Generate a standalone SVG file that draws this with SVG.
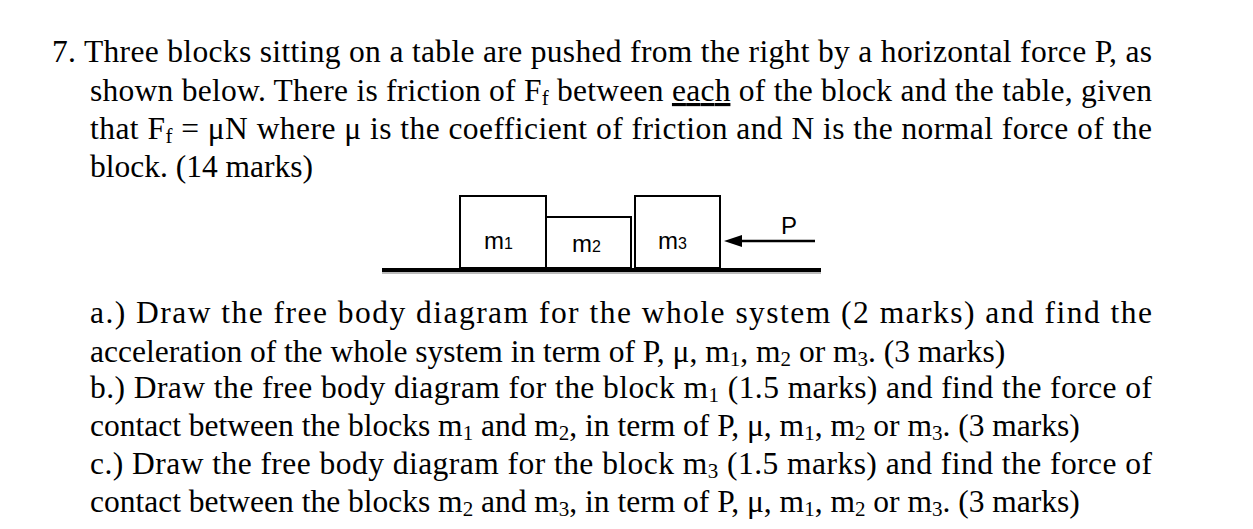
<svg xmlns="http://www.w3.org/2000/svg" width="1253" height="529" viewBox="0 0 1253 529">
<style>
.t{font-family:"Liberation Serif",serif;font-size:31.5px;fill:#000}
.s{font-size:21px}
.l{font-family:"Liberation Sans",Arial,sans-serif;font-size:24px;fill:#000}
.b{fill:#fff;stroke:#000;stroke-width:2}
</style>
<rect width="1253" height="529" fill="#fff"/>
<g id="text">
<text class="t" x="52" y="62" textLength="1100" lengthAdjust="spacing">7. Three blocks sitting on a table are pushed from the right by a horizontal force P, as</text>
<text class="t" x="90" y="101" textLength="1062" lengthAdjust="spacing">shown below.  There is friction of F<tspan class="s" dy="4">f</tspan><tspan dy="-4"> between </tspan><tspan text-decoration="underline">each</tspan> of the block and the table, given</text>
<text class="t" x="90" y="139" textLength="1062" lengthAdjust="spacing">that F<tspan class="s" dy="4">f</tspan><tspan dy="-4"> = μN where μ is the coefficient of friction and N is the normal force of the</tspan></text>
<text class="t" x="90" y="177">block. (14 marks)</text>
<text class="t" x="90" y="323" textLength="1062" lengthAdjust="spacing">a.) Draw the free body diagram for the whole system (2 marks) and find the</text>
<text class="t" x="90" y="362">acceleration of the whole system in term of P, μ, m<tspan class="s" dy="4">1</tspan><tspan dy="-4">, m</tspan><tspan class="s" dy="4">2</tspan><tspan dy="-4"> or m</tspan><tspan class="s" dy="4">3</tspan><tspan dy="-4">. (3 marks)</tspan></text>
<text class="t" x="90" y="398" textLength="1062" lengthAdjust="spacing">b.) Draw the free body diagram for the block m<tspan class="s" dy="4">1</tspan><tspan dy="-4"> (1.5 marks) and find the force of</tspan></text>
<text class="t" x="90" y="436">contact between the blocks m<tspan class="s" dy="4">1</tspan><tspan dy="-4"> and m</tspan><tspan class="s" dy="4">2</tspan><tspan dy="-4">, in term of P, μ, m</tspan><tspan class="s" dy="4">1</tspan><tspan dy="-4">, m</tspan><tspan class="s" dy="4">2</tspan><tspan dy="-4"> or m</tspan><tspan class="s" dy="4">3</tspan><tspan dy="-4">. (3 marks)</tspan></text>
<text class="t" x="90" y="474" textLength="1062" lengthAdjust="spacing">c.) Draw the free body diagram for the block m<tspan class="s" dy="4">3</tspan><tspan dy="-4"> (1.5 marks) and find the force of</tspan></text>
<text class="t" x="90" y="512">contact between the blocks m<tspan class="s" dy="4">2</tspan><tspan dy="-4"> and m</tspan><tspan class="s" dy="4">3</tspan><tspan dy="-4">, in term of P, μ, m</tspan><tspan class="s" dy="4">1</tspan><tspan dy="-4">, m</tspan><tspan class="s" dy="4">2</tspan><tspan dy="-4"> or m</tspan><tspan class="s" dy="4">3</tspan><tspan dy="-4">. (3 marks)</tspan></text>
</g>
<g id="ground"><line x1="382" y1="270" x2="821" y2="270" stroke="#000" stroke-width="4"/><line x1="382" y1="273" x2="821" y2="273" stroke="#bbb" stroke-width="2"/></g>
<g id="m1"><rect class="b" x="460" y="196" width="86" height="72"/><text class="l" x="484" y="249">m<tspan font-size="16">1</tspan></text></g>
<g id="m2"><rect class="b" x="546" y="217" width="85" height="51"/><text class="l" x="572" y="252">m<tspan font-size="16">2</tspan></text></g>
<g id="m3"><rect class="b" x="635" y="196" width="85" height="72"/><text class="l" x="658" y="249">m<tspan font-size="16">3</tspan></text></g>
<g id="connectors"><line x1="815" y1="241" x2="735" y2="241" stroke="#000" stroke-width="2.5"/><path d="M724,241 L742,235 L742,247z" fill="#000"/></g>
<g id="P"><text class="l" x="781" y="234">P</text></g>
</svg>
